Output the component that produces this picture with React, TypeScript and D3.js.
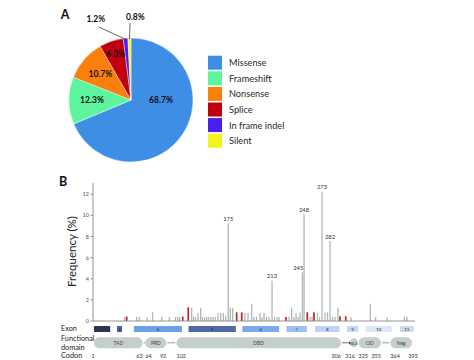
import React from "react";
import * as d3 from "d3";

// ---------- Panel A data ----------
const pieCategories = ["Missense", "Frameshift", "Nonsense", "Splice", "In frame indel", "Silent"];
const pieValues = [68.7, 12.3, 10.7, 6.3, 1.2, 0.8];
const pieColors = ["#3f8ee6", "#5cf59e", "#fa7f0c", "#c0000e", "#4a1ff0", "#f4f31c"];

// ---------- Panel B data ----------
// bar position (codon axis units), frequency (%), red = splice-type
const barPos = [39.8, 42.3, 54.5, 57.7, 67.2, 74.1, 85.2, 94.5, 102.1, 104.8, 107.2, 110.9, 117.7, 121.9, 124.1, 126.6, 129.6, 132.9, 135.1, 137.8, 140.4, 143.0, 145.6, 148.2, 150.8, 154.1, 157.4, 160.6, 163.6, 166.7, 169.2, 172.1, 177.0, 183.2, 187.2, 190.9, 195.4, 198.2, 201.3, 205.6, 208.0, 210.5, 213.5, 216.6, 220.3, 223.3, 226.4, 228.9, 237.4, 241.1, 244.4, 247.2, 249.7, 252.1, 254.6, 257.4, 259.5, 263.5, 266.8, 269.3, 271.7, 275.8, 278.5, 281.5, 285.2, 288.3, 291.3, 294.4, 297.5, 301.1, 303.6, 310.6, 317.1, 340.7, 347.3, 361.2, 382.4, 385.7];
const barValues = [0.38, 0.42, 0.38, 0.38, 0.38, 0.82, 0.38, 0.38, 0.38, 0.38, 0.38, 0.42, 1.3, 1.26, 0.4, 0.4, 0.76, 1.26, 0.38, 0.38, 0.38, 0.38, 0.38, 0.38, 0.38, 0.76, 0.76, 0.76, 0.5, 9.25, 1.26, 1.26, 0.82, 0.82, 0.76, 0.76, 1.64, 0.38, 0.38, 0.76, 0.38, 0.76, 0.38, 0.38, 3.82, 0.38, 0.38, 0.38, 0.38, 0.38, 1.26, 0.38, 0.76, 0.38, 0.82, 4.6, 10.1, 0.82, 0.38, 0.38, 0.82, 0.76, 0.38, 12.25, 0.82, 0.82, 7.57, 0.38, 0.38, 1.26, 0.45, 0.45, 0.38, 1.64, 0.38, 0.38, 0.38, 0.38];
const barRed = [false, true, false, false, false, false, false, false, false, false, false, true, true, false, false, false, false, false, false, false, false, false, false, false, false, false, false, false, false, false, false, false, true, true, false, false, false, false, false, false, false, false, false, false, false, false, false, false, true, false, false, false, false, false, false, false, false, true, false, false, true, false, false, false, false, false, false, false, false, false, true, true, false, false, false, false, false, false];
const barLabels: Record<number, string> = { 29: "175", 44: "213", 55: "245", 56: "248", 63: "273", 66: "282" };

const yTicks = [0, 2, 4, 6, 8, 10, 12];

const exonNames = ["1", "2", "4", "5", "6", "7", "8", "9", "10", "11"];
const exonStart = [2.2, 30.4, 51, 118, 184, 238, 273, 312, 335, 377];
const exonEnd = [22, 36.5, 110, 176, 229, 263, 303, 326, 367, 394];
const exonColors = ["#2c3558", "#3f6aa6", "#6c9fec", "#4e6aa7", "#7ca8f0", "#9ebff3", "#bdd2f5", "#c6d7f4", "#dde7f8", "#d3daec"];

const domainNames = ["TAD", "PRD", "DBD", "OD", "Neg"];
const domainStart = [1, 64, 102, 325, 364];
const domainEnd = [63, 92, 306, 355, 393];
const nlsRange = [316, 325];

const codonTicks = [1, 63, 64, 92, 102, 306, 316, 325, 355, 364, 393];
const codonAnchor = ["middle", "end", "start", "end", "start", "end", "middle", "start", "end", "start", "middle"];

const FONT = "Lato, 'Open Sans', sans-serif";

export default function App() {
  const W = 474, H = 360;
  // pie
  const cx = 131, cy = 100, R = 62;
  const arcs = d3.pie<number>().sort(null).value((d) => d)(pieValues);
  const arcGen = d3.arc<d3.PieArcDatum<number>>().innerRadius(0).outerRadius(R);
  const polar = (a: number, r: number): [number, number] => [cx + r * Math.sin(a), cy - r * Math.cos(a)];
  const deg = Math.PI / 180;
  const mid = (d: d3.PieArcDatum<number>) => (d.startAngle + d.endAngle) / 2;
  const innerLabel: Record<number, [number, number]> = {
    0: [90 * deg, 30],
  };
  const innerR = [30, 39, 40.5, 48];
  const outerLabel: Record<number, [number, number, number, number]> = {
    4: [336 * deg, 80, 336.6 * deg, 88.5],
    5: [359.3 * deg, 77, 3 * deg, 83],
  };

  // bar chart
  const x = d3.scaleLinear().domain([1, 393]).range([93, 413]);
  const y = d3.scaleLinear().domain([0, 13]).range([321, 183.7]);
  const baseY = y(0);

  const exonY = 326, exonH = 6;
  const domY = 337.3, domH = 11;
  const domMid = domY + domH / 2;

  return (
    <svg width={W} height={H} style={{ position: "absolute", left: 0, top: 0, background: "#fff" }} fontFamily={FONT}>
      <defs>
        <marker id="arr" viewBox="0 0 6 6" refX="5" refY="3" markerWidth="4" markerHeight="4" orient="auto">
          <path d="M0,0 L6,3 L0,6 z" fill="#333" />
        </marker>
      </defs>
      {/* Panel A */}
      <text x={65} y={18.5} fontSize={12.5} fontWeight="bold" textAnchor="middle" fill="#111">A</text>
      <g>
        {arcs.map((d, i) => (
          <path key={i} d={arcGen(d) || ""} transform={`translate(${cx},${cy})`} fill={pieColors[i]} stroke="#fff" strokeWidth={0.4} />
        ))}
        {arcs.map((d, i) => {
          if (i > 3) return null;
          const [a, r] = innerLabel[i] || [mid(d), innerR[i]];
          const [px, py] = polar(a, r);
          return (
            <text key={"l" + i} x={px} y={py} fontSize={8.5} fontWeight="bold" textAnchor="middle" dominantBaseline="central" fill="#111">
              {pieValues[i].toFixed(1)}%
            </text>
          );
        })}
        {arcs.map((d, i) => {
          const o = outerLabel[i];
          if (!o) return null;
          const [sx, sy] = polar(mid(d), R - 1);
          const [ex, ey] = polar(o[0], o[1]);
          const [tx, ty] = polar(o[2], o[3]);
          return (
            <g key={"o" + i}>
              <line x1={sx} y1={sy} x2={ex} y2={ey} stroke="#222" strokeWidth={0.7} />
              <text x={tx} y={ty} fontSize={8.5} fontWeight="bold" textAnchor="middle" dominantBaseline="central" fill="#111">
                {pieValues[i].toFixed(1)}%
              </text>
            </g>
          );
        })}
      </g>
      {/* Legend */}
      <g>
        {pieCategories.map((c, i) => {
          const ly = 62.7 + i * 15.6;
          return (
            <g key={c}>
              <rect x={208} y={ly - 7} width={14} height={14} fill={pieColors[i]} />
              <text x={229} y={ly} fontSize={9.2} dominantBaseline="central" fill="#2a2a2a">{c}</text>
            </g>
          );
        })}
      </g>

      {/* Panel B */}
      <text x={63} y={186} fontSize={12.5} fontWeight="bold" textAnchor="middle" fill="#111">B</text>
      <text transform={`translate(75.5,251.5) rotate(-90)`} fontSize={11.5} textAnchor="middle" fill="#222">Frequency (%)</text>
      {/* y axis */}
      <line x1={93} x2={93} y1={183} y2={baseY} stroke="#777" strokeWidth={0.8} />
      {yTicks.map((t) => (
        <g key={t}>
          <line x1={90.5} x2={93} y1={y(t)} y2={y(t)} stroke="#777" strokeWidth={0.8} />
          <text x={89} y={y(t)} fontSize={5.5} textAnchor="end" dominantBaseline="central" fill="#555">{t}</text>
        </g>
      ))}
      {/* bars */}
      {barPos.map((p, i) => {
        const w = barRed[i] ? 1.7 : 1.2;
        return (
          <rect key={i} x={x(p) - w / 2} y={y(barValues[i])} width={w} height={baseY - y(barValues[i])} fill={barRed[i] ? "#c1232b" : "#a9b3b0"} />
        );
      })}
      {Object.keys(barLabels).map((k) => {
        const i = +k;
        const isLeft = barLabels[i] === "245";
        return (
          <text key={"bl" + i} x={isLeft ? x(barPos[i]) + 1 : x(barPos[i])} y={y(barValues[i]) - 2.3} fontSize={5.8} textAnchor={isLeft ? "end" : "middle"} fill="#333">
            {barLabels[i]}
          </text>
        );
      })}
      <line x1={93} x2={415} y1={baseY} y2={baseY} stroke="#888" strokeWidth={0.9} />

      {/* row labels */}
      <text x={61} y={328.5} fontSize={7.3} dominantBaseline="central" fill="#222">Exon</text>
      <text x={61} y={338.5} fontSize={7.3} dominantBaseline="central" fill="#222">Functional</text>
      <text x={61} y={347.3} fontSize={7.3} dominantBaseline="central" fill="#222">domain</text>
      <text x={61} y={355} fontSize={7.3} dominantBaseline="central" fill="#222">Codon</text>

      {/* exons */}
      {exonNames.map((n, i) => (
        <g key={"e" + n}>
          <rect x={x(exonStart[i])} y={exonY} width={x(exonEnd[i]) - x(exonStart[i])} height={exonH} fill={exonColors[i]} />
          <text x={(x(exonStart[i]) + x(exonEnd[i])) / 2} y={exonY + exonH / 2} fontSize={4.5} textAnchor="middle" dominantBaseline="central" fill="#1d2340">{n}</text>
        </g>
      ))}

      {/* domains */}
      <line x1={x(63)} x2={x(64) + 1} y1={domMid} y2={domMid} stroke="#555" strokeWidth={0.6} />
      <line x1={x(92)} x2={x(102)} y1={domMid} y2={domMid} stroke="#555" strokeWidth={0.6} />
      <line x1={x(355)} x2={x(364)} y1={domMid} y2={domMid} stroke="#555" strokeWidth={0.6} />
      <line x1={x(306)} x2={x(nlsRange[0]) + 1} y1={domMid} y2={domMid} stroke="#333" strokeWidth={0.7} markerEnd="url(#arr)" />
      {domainNames.map((n, i) => {
        const x0 = x(domainStart[i]) + 1;
        const x1 = x(domainEnd[i]) - 1;
        return (
          <g key={"d" + n}>
            <rect x={x0} y={domY} width={x1 - x0} height={domH} rx={5.5} ry={5.5} fill="#c4cecb" />
            <text x={(x0 + x1) / 2} y={domMid} fontSize={5} textAnchor="middle" dominantBaseline="central" fill="#444">{n}</text>
          </g>
        );
      })}
      <ellipse cx={(x(nlsRange[0]) + x(nlsRange[1])) / 2} cy={domMid} rx={4} ry={4.5} fill="#c4cecb" />
      <text x={(x(nlsRange[0]) + x(nlsRange[1])) / 2 - 0.5} y={domMid} fontSize={4.6} textAnchor="middle" dominantBaseline="central" fill="#333">NLS</text>

      {/* codon ticks */}
      {codonTicks.map((c, i) => (
        <text key={"c" + i} x={x(c) + (codonAnchor[i] === "end" ? -1 : codonAnchor[i] === "start" ? 1 : 0)} y={356} fontSize={5.5} textAnchor={codonAnchor[i] as any} dominantBaseline="central" fill="#333">{c}</text>
      ))}
    </svg>
  );
}
